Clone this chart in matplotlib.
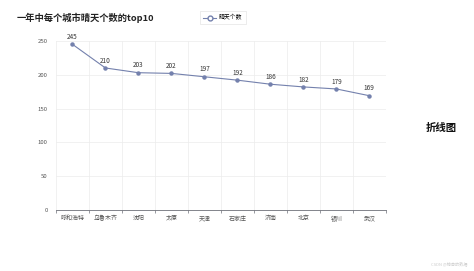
import numpy as np
import matplotlib.pyplot as plt

plt.rcParams['font.family'] = ['Noto Sans CJK SC', 'DejaVu Sans']

cities = ['呼和浩特', '乌鲁木齐', '沈阳', '太原', '天津', '石家庄', '济南', '北京', '银川', '武汉']
sunny_days = [245, 210, 203, 202, 197, 192, 186, 182, 179, 169]
yticks = [0, 50, 100, 150, 200, 250]

fig = plt.figure(figsize=(4.74, 2.71), dpi=100)
ax = fig.add_axes([0.118, 0.225, 0.696, 0.624])

x = np.arange(len(cities))
line_color = '#7481ad'
ax.plot(x, sunny_days, color=line_color, lw=0.8, marker='o', ms=2.2,
        mfc=line_color, mec=line_color, label='晴天个数')
for xi, v in zip(x, sunny_days):
    ax.text(xi, v + 5, str(v), ha='center', va='bottom', fontsize=4.6, color='#333333')

ax.set_xlim(-0.5, len(cities) - 0.5)
ax.set_ylim(0, 250)
ax.set_yticks(yticks)
ax.set_xticks(x)
ax.set_xticklabels(cities, fontsize=4.3, color='#555555')
ax.tick_params(axis='y', labelsize=4.3, labelcolor='#555555', length=0, pad=6)
ax.tick_params(axis='x', length=0, pad=4)

# grid: vertical lines between categories, horizontal at y ticks
ax.set_xticks(np.arange(-0.5, len(cities)), minor=True)
ax.tick_params(axis='x', which='minor', length=2, color='#6e7079', width=0.5)
ax.grid(True, which='minor', axis='x', color='#ececec', lw=0.5)
ax.grid(True, which='major', axis='y', color='#ececec', lw=0.5)
ax.set_axisbelow(True)

for s in ['top', 'right', 'left']:
    ax.spines[s].set_visible(False)
ax.spines['bottom'].set_color('#6e7079')
ax.spines['bottom'].set_linewidth(0.6)

fig.text(0.036, 0.935, '一年中每个城市晴天个数的top10', fontsize=6.7, fontweight='bold',
         color='#222222', va='center')
leg = fig.legend(loc='center', bbox_to_anchor=(0.47, 0.935), fontsize=4.2,
                 frameon=True, handlelength=2.2, borderpad=0.5, handletextpad=0.5)
leg.get_frame().set_edgecolor('#dddddd')
leg.get_frame().set_linewidth(0.5)
leg.get_frame().set_boxstyle('square', pad=0.1)
for ln in leg.get_lines():
    ln.set_markerfacecolor('white')
    ln.set_markersize(3.5)

fig.text(0.93, 0.527, '折线图', fontsize=7.5, fontweight='bold', color='#111111',
         ha='center', va='center')
fig.text(0.985, 0.018, 'CSDN @神奇的数据', fontsize=3, color='#cccccc', ha='right', va='bottom')

fig.savefig('out.png', dpi=100)
